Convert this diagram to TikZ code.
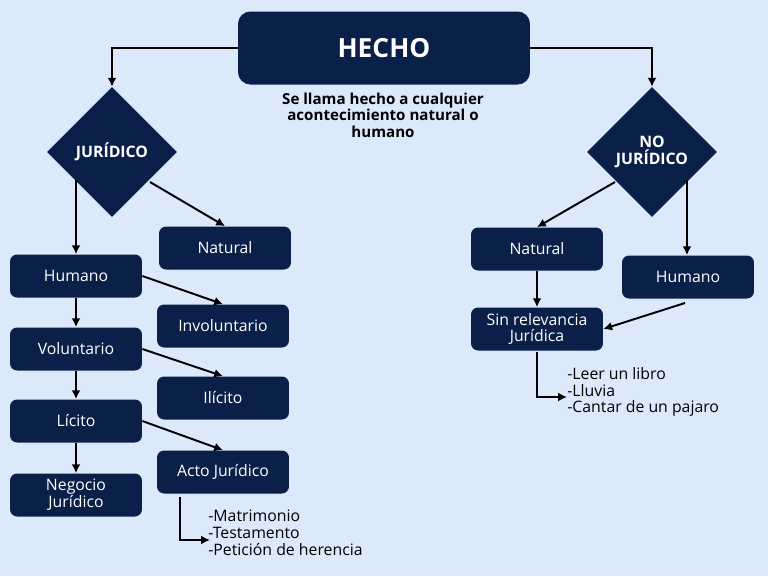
\documentclass[tikz,border=0pt]{standalone}
\usepackage{fontspec}
\setmainfont{Open Sans}
\usetikzlibrary{shapes.geometric,arrows.meta}
\definecolor{navy}{HTML}{0B2048}
\definecolor{bg}{HTML}{DCE9FB}
\tikzset{
  box/.style={fill=navy, rounded corners=4pt, text=white, minimum width=2.64cm,
    minimum height=0.86cm, align=center, font=\fontsize{9}{10}\selectfont, inner sep=1pt},
  rombo/.style={diamond, fill=navy, text=white, minimum size=2.6cm, inner sep=0pt,
    align=center, font=\bfseries\fontsize{9}{10}\selectfont},
  flecha/.style={draw, line width=1.1pt, -{Latex[length=5pt,width=5pt]}},
  lista/.style={anchor=north west, align=left, inner sep=0pt, font=\fontsize{9}{9.5}\selectfont}
}
\begin{document}
\begin{tikzpicture}[x=0.02cm, y=-0.02cm]
    \fill [bg] (0,0) rectangle (768,576);
    \useasboundingbox (0,0) rectangle (768,576);
    % cabecera
    \node [box, minimum width=5.84cm, minimum height=1.46cm, rounded corners=7pt,
      font=\bfseries\fontsize{15}{16}\selectfont] (hecho) at (384,48) {HECHO};
    \node [align=center, font=\bfseries\fontsize{8.6}{9.4}\selectfont] (def) at (383,115)
      {Se llama hecho a cualquier\\acontecimiento natural o\\humano};
    \node [rombo] (jur) at (112,152) {JURÍDICO};
    \node [rombo] (nojur) at (652,152) {NO\\JURÍDICO};
    % rama jurídica
    \node [box] (natA) at (225,248) {Natural};
    \node [box] (hum) at (76,276) {Humano};
    \node [box] (invol) at (223,326) {Involuntario};
    \node [box] (vol) at (76,349) {Voluntario};
    \node [box] (ilic) at (223,398) {Ilícito};
    \node [box] (lic) at (76,421) {Lícito};
    \node [box] (acto) at (223,472) {Acto Jurídico};
    \node [box, font=\fontsize{9}{9.5}\selectfont] (neg) at (76,495) {Negocio\\Jurídico};
    \node [lista] (ejA) at (208,510) {-Matrimonio\\-Testamento\\-Petición de herencia};
    % rama no jurídica
    \node [box] (natB) at (537,249) {Natural};
    \node [box] (humB) at (688,277) {Humano};
    \node [box, font=\fontsize{9}{9.5}\selectfont] (sinrel) at (537,329) {Sin relevancia\\Jurídica};
    \node [lista] (ejB) at (567,367) {-Leer un libro\\-Lluvia\\-Cantar de un pajaro};
    % puntos auxiliares
    \coordinate (jurL) at (76,180);
    \coordinate (jurR) at (150,182);
    \coordinate (nojL) at (615,182);
    \coordinate (nojR) at (687,180);
    \coordinate (humBL) at (685,303);
    \coordinate (actoB) at (180,497);
    \coordinate (ejAin) at (210,540);
    \coordinate (sinB) at (537,352);
    \coordinate (ejBin) at (567,397);
    % conectores
    \draw [flecha] (hecho.west) -| (jur.north);
    \draw [flecha] (hecho.east) -| (nojur.north);
    \draw [flecha] (jurL) -- (hum.north -| jurL);
    \draw [flecha] (jurR) -- (natA.north);
    \draw [flecha] (hum.east) -- (invol.north);
    \draw [flecha] (hum.south) -- (vol.north);
    \draw [flecha] (vol.east) -- (ilic.north);
    \draw [flecha] (vol.south) -- (lic.north);
    \draw [flecha] (lic.east) -- (acto.north);
    \draw [flecha] (lic.south) -- (neg.north);
    \draw [flecha] (actoB) |- (ejAin);
    \draw [flecha] (nojL) -- (natB.north);
    \draw [flecha] (nojR) -- (humB.north -| nojR);
    \draw [flecha] (natB.south) -- (sinrel.north);
    \draw [flecha] (humBL) -- (sinrel.east);
    \draw [flecha] (sinB) |- (ejBin);
\end{tikzpicture}
\end{document}
